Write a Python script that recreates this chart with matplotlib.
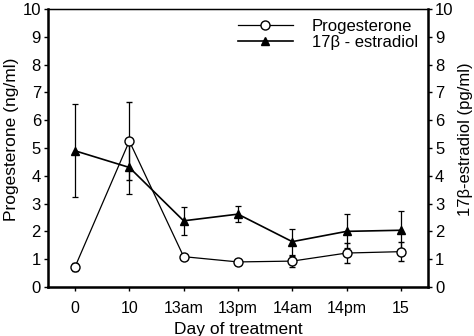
import matplotlib.pyplot as plt
from matplotlib.lines import Line2D

plt.rcParams['font.family'] = ['Liberation Sans', 'DejaVu Sans']

# days of treatment
days = ['0', '10', '13am', '13pm', '14am', '14pm', '15']

# progesterone (ng/ml)
prog = [0.72, 5.25, 1.09, 0.90, 0.93, 1.22, 1.27]
prog_err = [0.13, 1.40, 0.10, 0.10, 0.20, 0.36, 0.34]

# 17b-estradiol (pg/ml)
e2 = [4.90, 4.30, 2.38, 2.62, 1.63, 2.00, 2.04]
e2_err = [1.68, 0.95, 0.50, 0.28, 0.47, 0.61, 0.69]

x = list(range(len(days)))

fig = plt.figure(figsize=(4.74, 3.36), dpi=100)
ax = fig.add_axes([0.101, 0.146, 0.802, 0.827])
ax2 = ax.twinx()

ax2.errorbar(x, e2, yerr=e2_err, color='black', lw=1.2, elinewidth=0.9,
             capsize=2.5, capthick=0.9, marker='^', ms=6, mfc='black', zorder=2)
ax2.errorbar(x, prog, yerr=prog_err, color='black', lw=0.9, elinewidth=0.9,
             capsize=2.5, capthick=0.9, marker='o', ms=6.5, mfc='white',
             mew=1.0, zorder=3)

for a in (ax, ax2):
    a.set_ylim(0, 10)
    a.set_yticks(range(0, 11))
    a.tick_params(labelsize=12, width=1, length=3, direction='out', pad=2)
ax.set_xlim(-0.5, 6.5)
ax.set_xticks(x)
ax.set_xticklabels(days)
ax.tick_params(axis='x', labelsize=11.5, pad=7)

ax.set_ylabel('Progesterone (ng/ml)', fontsize=12.5)
ax.yaxis.set_label_coords(-0.076, 0.53)
ax2.set_ylabel('17β-estradiol (pg/ml)', fontsize=12)
ax2.yaxis.set_label_coords(1.078, 0.53)
ax.set_xlabel('Day of treatment', fontsize=12.5)
ax.xaxis.set_label_coords(0.5, -0.125)

for s in ('left', 'bottom'):
    ax.spines[s].set_linewidth(1.8)
ax2.spines['right'].set_linewidth(1.8)
ax2.spines['top'].set_linewidth(1.0)

handles = [Line2D([], [], color='black', lw=0.9, marker='o', ms=6.5, mfc='white'),
           Line2D([], [], color='black', lw=1.2, marker='^', ms=6, mfc='black')]
ax2.legend(handles, ['Progesterone', '17β - estradiol'], loc='upper left',
           bbox_to_anchor=(0.482, 0.99), borderaxespad=0, frameon=False,
           fontsize=12, handlelength=3.3, handletextpad=1.15, labelspacing=0.1)

fig.savefig('out.png', dpi=100)
